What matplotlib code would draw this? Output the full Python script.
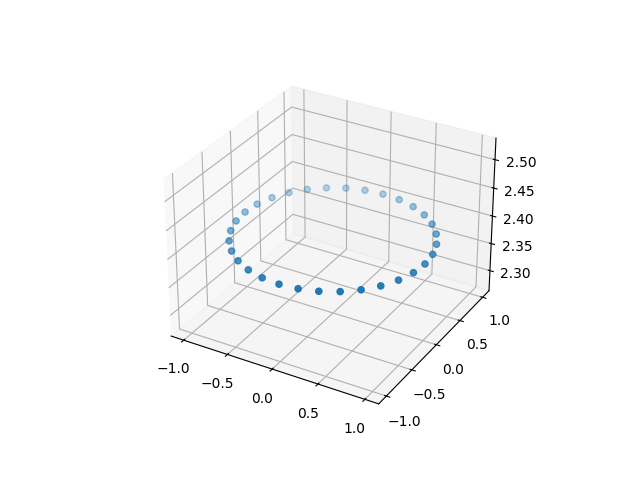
import matplotlib
matplotlib.use("Agg")
import matplotlib.pyplot as plt

x = [1.0, 0.981, 0.924, 0.831, 0.707, 0.556, 0.383, 0.195, 0.0, -0.195, -0.383, -0.556, -0.707, -0.831, -0.924, -0.981,
     -1.0, -0.981, -0.924, -0.831, -0.707, -0.556, -0.383, -0.195, 0.0, 0.195, 0.383, 0.556, 0.707, 0.831, 0.924, 0.981]
y = [0.0, 0.195, 0.383, 0.556, 0.707, 0.831, 0.924, 0.981, 1.0, 0.981, 0.924, 0.831, 0.707, 0.556, 0.383, 0.195,
     0.0, -0.195, -0.383, -0.556, -0.707, -0.831, -0.924, -0.981, -1.0, -0.981, -0.924, -0.831, -0.707, -0.556, -0.383, -0.195]
z = [2.4] * 32

fig = plt.figure(figsize=(6.4, 4.8), dpi=100)
ax = fig.add_subplot(projection='3d')
ax.scatter(x, y, z)
fig.savefig("out.png")
